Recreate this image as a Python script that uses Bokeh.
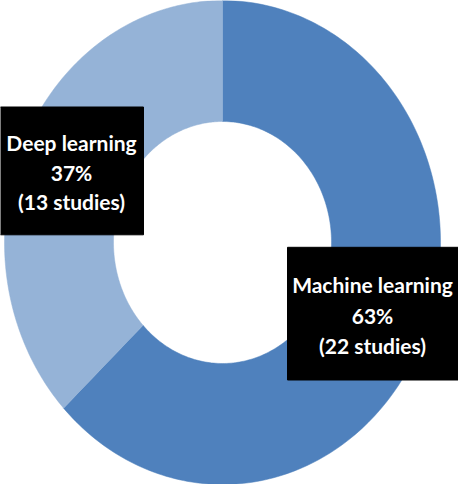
import numpy as np
from bokeh.plotting import figure
from bokeh.models import Range1d
from bokeh.core.properties import value
from bokeh.embed import file_html
from bokeh.resources import INLINE

categories = ["Machine learning", "Deep learning"]
shares = [63, 37]
studies = [22, 13]
colors = ["#4F81BD", "#95B3D7"]

W, H = 458, 484
p = figure(width=W, height=H, output_backend="svg", toolbar_location=None,
           x_range=Range1d(-222, 236), y_range=Range1d(-242, 242),
           min_border=0)
p.axis.visible = False
p.grid.visible = False
p.outline_line_color = None
p.background_fill_color = "white"

rx_o, ry_o = 218, 242
rx_i, ry_i = 109, 121

total = sum(shares)
start = 0.0
for cat, s, col in zip(categories, shares, colors):
    frac = s / total
    a0, a1 = start, start + frac * 2 * np.pi
    t = np.linspace(a0, a1, 200)
    xo = rx_o * np.sin(t)
    yo = ry_o * np.cos(t)
    xi = rx_i * np.sin(t[::-1])
    yi = ry_i * np.cos(t[::-1])
    p.patch(np.concatenate([xo, xi]), np.concatenate([yo, yi]),
            fill_color=col, line_color=col, line_width=0.5)
    start = a1

# label boxes
boxes = {
    "Deep learning": dict(left=-225, right=-79, top=135.5, bottom=7.7, cx=-151, ys=[99.7, 69.7, 40.7]),
    "Machine learning": dict(left=65, right=240, top=-4.8, bottom=-137.5, cx=150, ys=[-41.6, -72.6, -102.6]),
}
for cat, s, n in zip(categories, shares, studies):
    b = boxes[cat]
    p.quad(left=[b["left"]], right=[b["right"]], top=[b["top"]], bottom=[b["bottom"]],
           fill_color="black", line_color="black")
    lines = [cat, f"{s}%", f"({n} studies)"]
    p.text(x=[b["cx"]] * 3, y=b["ys"], text=lines,
           text_font=value("Lato"), text_font_style="bold", text_font_size="21px",
           text_color="white", text_align="center", text_baseline="middle")

open("out.html", "w").write(file_html(p, INLINE))
